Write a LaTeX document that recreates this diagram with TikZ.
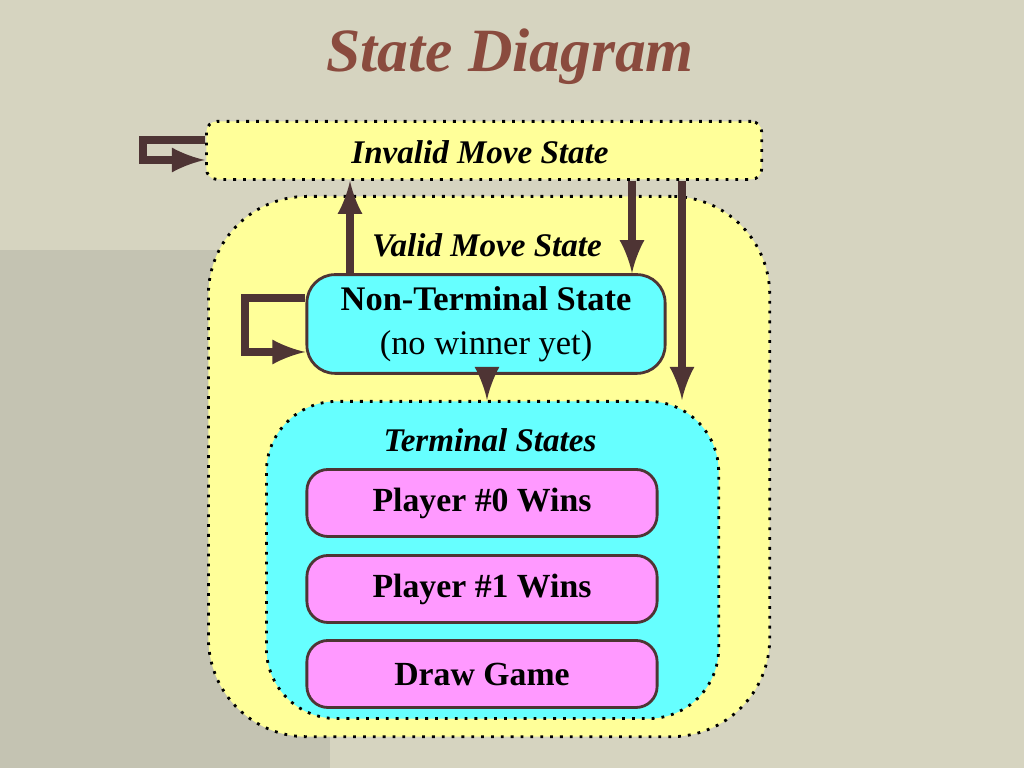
\documentclass[tikz,border=0pt]{standalone}
\usepackage{fontspec}
\setmainfont{Liberation Serif}
\usepackage{tikz}
\usetikzlibrary{positioning}
\definecolor{bgBeige}{HTML}{D6D4C0}
\definecolor{bgShade}{HTML}{C4C3B2}
\definecolor{titleRed}{HTML}{8A4B3E}
\definecolor{arrowBrown}{HTML}{4E3434}
\definecolor{paleYellow}{HTML}{FFFF99}
\definecolor{brightCyan}{HTML}{66FFFF}
\definecolor{lightPink}{HTML}{FF99FF}
\tikzset{
  area/.style={draw=black, dotted, thick, rounded corners=28pt, anchor=north west},
  statebox/.style={draw=arrowBrown, thick, rounded corners=6pt, fill=lightPink,
    minimum width=3.5cm, minimum height=0.67cm, font=\bfseries\fontsize{9.6}{12}\selectfont},
  flow/.style={arrowBrown, line width=2.2pt, -latex},
}
\begin{document}
\begin{tikzpicture}[x=0.01cm, y=-0.01cm]
        \fill[bgBeige] (0,0) rectangle (1024,768);
        \fill[bgShade] (0,250) -- (330,250) -- (330,768) -- (0,768) -- cycle;

        \node[titleRed, font=\bfseries\itshape\fontsize{17.5}{21}\selectfont] (title) at (510,57) {State Diagram};

        % outer states
        \node[area, fill=paleYellow, rounded corners=3pt, minimum width=5.55cm, minimum height=0.58cm] (invalid) at (205,120) {};
        \node[font=\bfseries\itshape\fontsize{9.4}{12}\selectfont] (invalidtxt) at (480,152) {Invalid Move State};
        \node[area, fill=paleYellow, minimum width=5.61cm, minimum height=5.4cm] (valid) at (207,195) {};
        \node[font=\bfseries\itshape\fontsize{9.4}{12}\selectfont] (validtxt) at (487,245) {Valid Move State};

        % non terminal
        \node[statebox, fill=brightCyan, minimum width=3.58cm, minimum height=0.85cm, rounded corners=8pt,
              align=center, font=\fontsize{9.8}{12.5}\selectfont] (nonterm) at (486,324)
              {\textbf{Non-Terminal State}\\(no winner yet)};

        % terminal
        \node[area, fill=brightCyan, rounded corners=20pt, minimum width=4.52cm, minimum height=3.17cm] (term) at (265,400) {};
        \node[font=\bfseries\itshape\fontsize{9.4}{12}\selectfont] (termtxt) at (490,440) {Terminal States};
        \node[statebox] (win0) at (482,503) {Player \#0 Wins};
        \node[statebox] (win1) at (482,589) {Player \#1 Wins};
        \node[statebox] (drawgame) at (482,674) {Draw Game};

        % transitions
        \coordinate (a1) at (143,140);
        \coordinate (a2) at (143,160);
        \draw[flow] (205,140) -- (a1) -- (a2) -- (205,160);
        \coordinate (b1) at (245,298);
        \coordinate (b2) at (245,352);
        \draw[flow] (nonterm.west |- 0,298) -- (b1) -- (b2) -- (nonterm.west |- 0,352);
        \draw[flow] (nonterm.north -| 350,0) -- (invalid.south -| 350,0);
        \draw[flow] (invalid.south -| 632,0) -- (nonterm.north -| 632,0);
        \draw[flow] (invalid.south -| 682,0) -- (term.north -| 682,0);
        \draw[flow] (nonterm.south -| 487,0) -- (term.north -| 487,0);
\end{tikzpicture}
\end{document}
